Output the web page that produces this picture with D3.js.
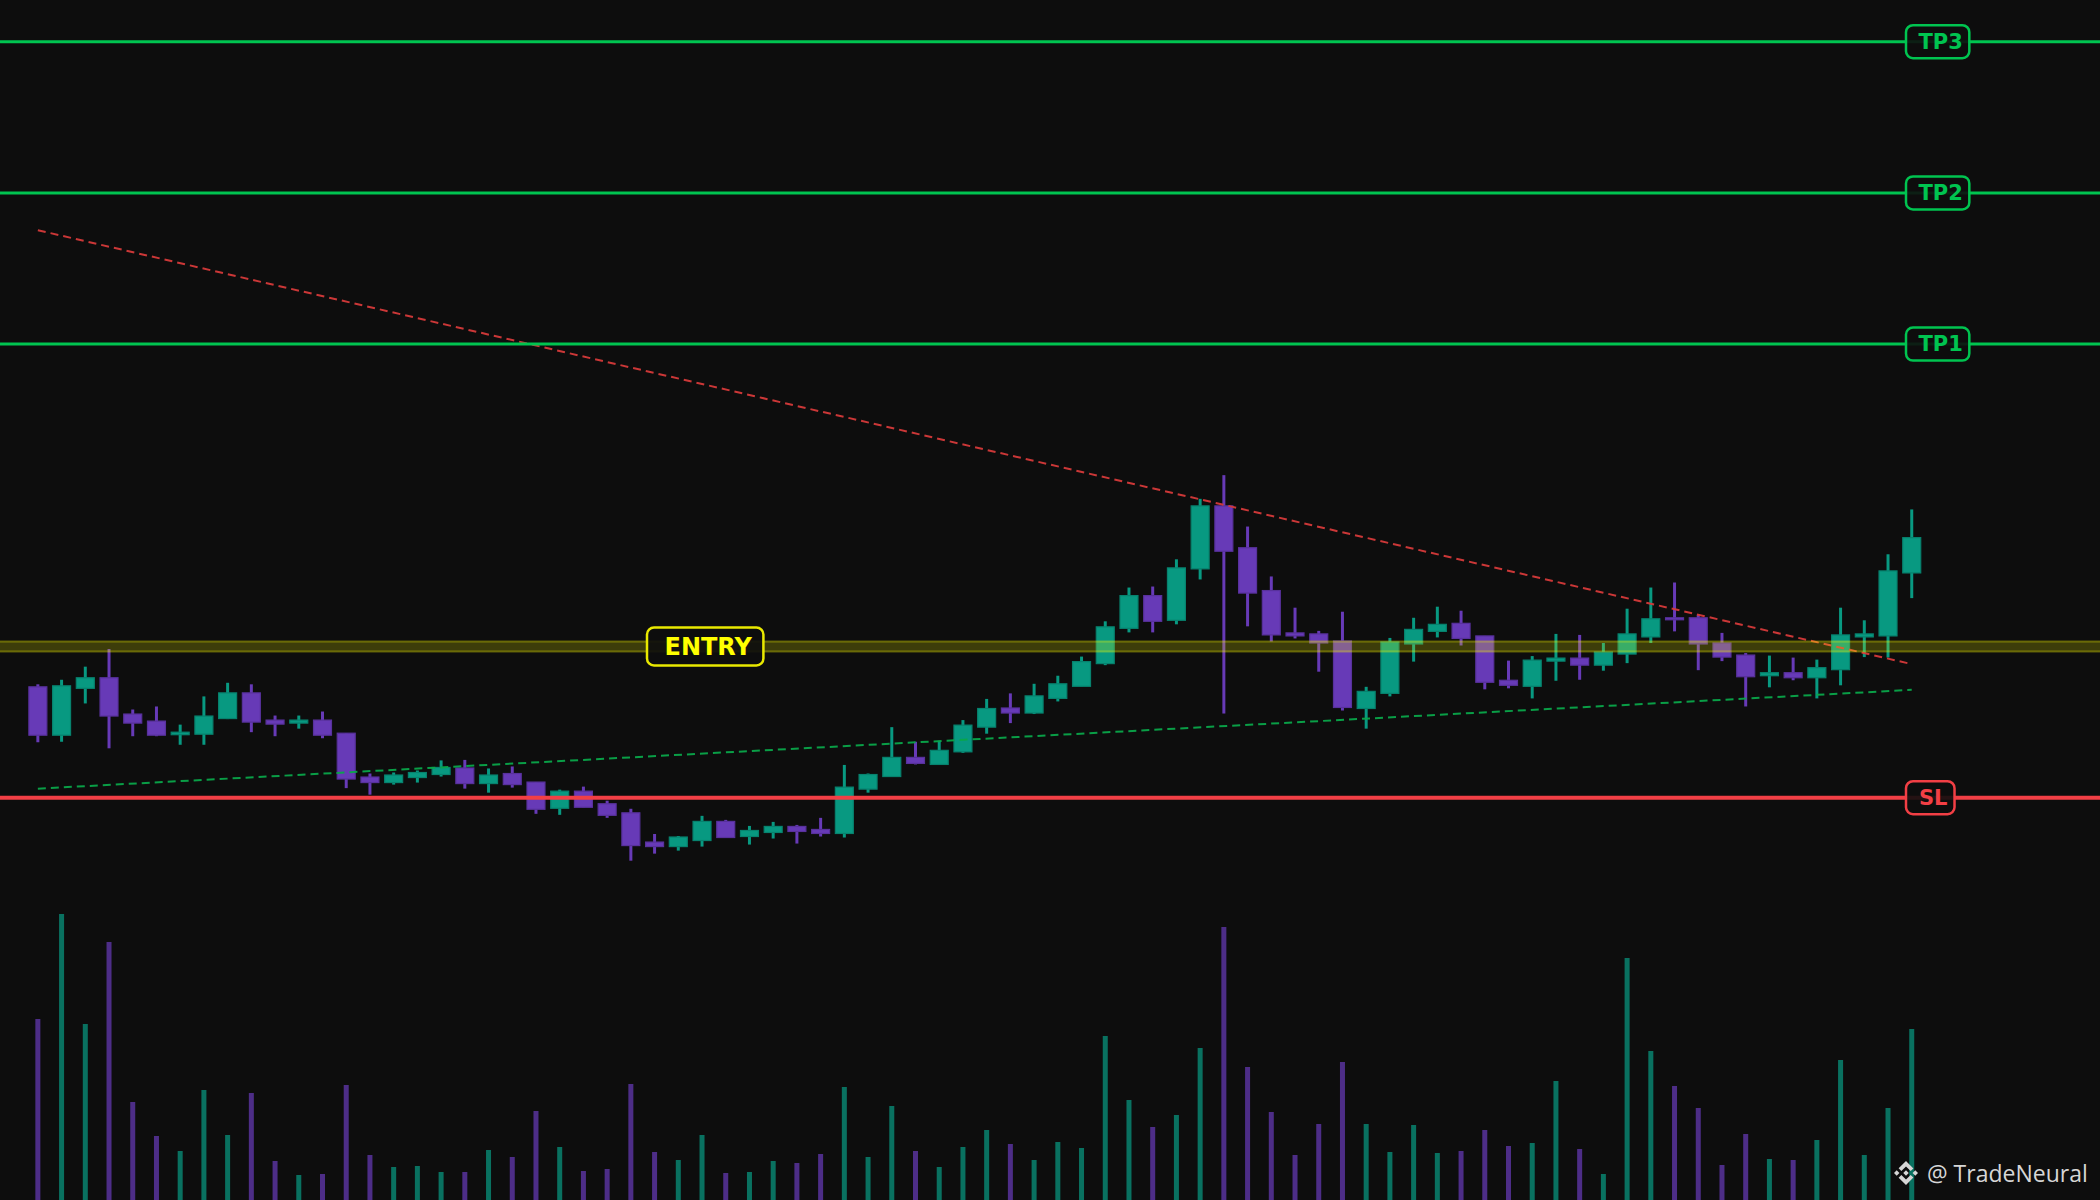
<!DOCTYPE html>
<html><head><meta charset="utf-8">
<script src="https://cdn.jsdelivr.net/npm/d3@7"></script>
<style>html,body{margin:0;padding:0;background:#0d0d0d;overflow:hidden}</style>
</head><body><svg id="chart" width="2100" height="1200"></svg>
<script>
// ---- data ----
const opens  = [99.20,98.24,99.17,99.38,98.66,98.52,98.25,98.26,98.57,99.08,98.54,98.48,98.54,98.28,97.41,97.30,97.40,97.46,97.59,97.28,
                97.48,97.31,96.79,97.13,96.88,96.70,96.12,96.03,96.15,96.53,96.23,96.31,96.43,96.37,96.29,97.17,97.42,97.80,97.66,97.91,
                98.40,98.78,98.68,98.97,99.21,99.66,100.36,101.01,100.52,101.54,102.79,101.96,101.11,100.27,100.25,100.11,98.77,99.07,100.05,100.30,
                100.46,100.21,99.33,99.21,99.71,99.77,99.63,99.85,100.19,100.57,100.57,100.07,99.83,99.42,99.48,99.38,99.54,100.19,100.21,101.46];
const highs  = [99.25,99.34,99.60,99.95,98.75,98.81,98.45,99.01,99.28,99.25,98.63,98.63,98.71,98.28,97.48,97.50,97.54,97.74,97.75,97.58,
                97.62,97.31,97.16,97.22,96.94,96.78,96.28,96.24,96.64,96.56,96.44,96.52,96.46,96.60,97.65,97.48,98.40,98.11,98.13,98.54,
                98.96,99.07,99.26,99.42,99.80,100.50,101.17,101.19,101.73,102.93,103.40,102.38,101.39,100.77,100.31,100.69,99.20,100.17,100.57,100.79,
                100.71,100.21,99.72,99.81,100.25,100.23,100.07,100.75,101.17,101.27,100.63,100.27,99.87,99.82,99.78,99.74,100.77,100.52,101.83,102.72];
const lows   = [98.10,98.11,98.87,97.98,98.22,98.22,98.05,98.05,98.56,98.30,98.22,98.37,98.18,97.19,97.06,97.26,97.30,97.42,97.18,97.10,
                97.20,96.68,96.66,96.81,96.60,95.75,95.89,95.95,96.03,96.21,96.07,96.19,96.09,96.23,96.21,97.10,97.42,97.66,97.66,97.89,
                98.27,98.48,98.66,98.91,99.21,99.63,100.28,100.28,100.44,101.33,98.67,100.40,100.10,100.16,99.50,98.73,98.37,99.01,99.70,100.18,
                100.02,99.15,99.17,98.97,99.32,99.34,99.52,99.67,100.07,100.30,99.53,99.71,98.81,99.19,99.33,98.97,99.23,99.79,99.78,100.96];
const closes = [98.24,99.22,99.38,98.62,98.48,98.24,98.30,98.62,99.08,98.50,98.46,98.54,98.24,97.37,97.30,97.45,97.50,97.60,97.28,97.45,
                97.26,96.77,97.13,96.81,96.65,96.05,96.03,96.22,96.53,96.21,96.35,96.43,96.33,96.29,97.21,97.46,97.80,97.68,97.94,98.44,
                98.77,98.68,99.02,99.26,99.70,100.39,101.01,100.50,101.56,102.79,101.89,101.06,100.23,100.21,100.07,98.79,99.11,100.09,100.34,100.44,
                100.16,99.29,99.23,99.73,99.77,99.63,99.89,100.25,100.55,100.53,100.05,99.79,99.40,99.48,99.38,99.58,100.23,100.25,101.50,102.16];
const volumes = [1810,2860,1760,2580,980,640,490,1100,650,1070,390,250,260,1150,450,330,340,280,280,500,
                 430,890,530,290,310,1160,480,400,650,270,280,390,370,460,1130,430,940,490,330,530,
                 700,560,400,580,520,1640,1000,730,850,1520,2730,1330,880,450,760,1380,760,480,750,470,
                 490,700,540,570,1190,510,260,2420,1490,1140,920,350,660,410,400,600,1400,450,920,1710];
const levelNames  = ["TP3","TP2","TP1","ENTRY","SL"];
const levelPrices = [112, 109, 106, 100, 97];
const resistanceIdx = [0, 79], resistancePrices = [108.26, 99.65];
const supportIdx    = [0, 79], supportPrices    = [97.18, 99.14];

// ---- setup ----
const W = 2100, H = 1200;
const svg = d3.select("#chart");
const UP = "#089981", DOWN = "#673ab7", BG = "#0d0d0d";
const TPC = "#00c450", SLC = "#f23f45", ENC = "#ffff00";

svg.append("rect").attr("width", W).attr("height", H).attr("fill", BG);

const idx = d3.range(opens.length);
const x = d3.scaleBand().domain(idx).range([26, 1923.6]).paddingInner(0.2).paddingOuter(0.1);
const bw = x.bandwidth();
const cx = i => x(i) + bw / 2;
const y = d3.scaleLinear().domain([97, 112]).range([797.7, 41.7]);
const yv = d3.scaleLinear().domain([0, 3000]).range([H, 900]);
const col = i => closes[i] >= opens[i] ? UP : DOWN;

// volume
svg.append("g").selectAll("rect").data(idx).join("rect")
  .attr("x", i => cx(i) - 2.5).attr("width", 5)
  .attr("y", i => yv(volumes[i])).attr("height", i => yv(0) - yv(volumes[i]))
  .attr("fill", col).attr("opacity", 0.72);

// candles
const cg = svg.append("g");
cg.selectAll("line").data(idx).join("line")
  .attr("x1", cx).attr("x2", cx)
  .attr("y1", i => y(highs[i])).attr("y2", i => y(lows[i]))
  .attr("stroke", col).attr("stroke-width", 3);
cg.selectAll("rect").data(idx).join("rect")
  .attr("x", i => x(i) + 0.5).attr("width", bw - 1)
  .attr("y", i => y(Math.max(opens[i], closes[i])))
  .attr("height", i => Math.max(2, Math.abs(y(opens[i]) - y(closes[i]))))
  .attr("fill", col)
  .attr("stroke", i => d3.color(col(i)).darker(0.45))
  .attr("stroke-width", 1.2);

// trend lines
const tl = d3.line().x(d => cx(d[0])).y(d => y(d[1]));
svg.append("path").attr("d", tl(resistanceIdx.map((v, k) => [v, resistancePrices[k]])))
  .attr("fill", "none").attr("stroke", "#d63a3a").attr("stroke-width", 2)
  .attr("stroke-dasharray", "8,5").attr("opacity", 0.95);
svg.append("path").attr("d", tl(supportIdx.map((v, k) => [v, supportPrices[k]])))
  .attr("fill", "none").attr("stroke", "#0aa64a").attr("stroke-width", 2)
  .attr("stroke-dasharray", "8,5").attr("opacity", 0.95);

// level lines
levelNames.forEach((name, k) => {
  const py = y(levelPrices[k]);
  if (name === "ENTRY") {
    svg.append("rect").attr("x", -2).attr("width", W + 4).attr("y", py - 5).attr("height", 10)
      .attr("fill", ENC).attr("fill-opacity", 0.2)
      .attr("stroke", ENC).attr("stroke-opacity", 0.32).attr("stroke-width", 2);
  } else {
    svg.append("line").attr("x1", 0).attr("x2", W).attr("y1", py).attr("y2", py)
      .attr("stroke", name === "SL" ? SLC : TPC).attr("stroke-width", name === "SL" ? 4 : 3);
  }
});

// labels
function label(name, left, py, color, textColor, fs, h, pad, base) {
  const g = svg.append("g");
  const box = g.append("rect");
  const t = g.append("text").text(name)
    .attr("font-family", "DejaVu Sans, sans-serif").attr("font-weight", "bold")
    .attr("font-size", fs).attr("fill", textColor).attr("text-anchor", "middle");
  const tw = t.node().getComputedTextLength();
  const bwid = tw + 2 * pad;
  box.attr("x", left).attr("y", py - h / 2).attr("width", bwid).attr("height", h)
    .attr("rx", 7).attr("fill", BG).attr("fill-opacity", 0.9)
    .attr("stroke", color).attr("stroke-width", 2.5);
  t.attr("x", left + bwid / 2 + 3).attr("y", py + base);
}
levelNames.forEach((name, k) => {
  const py = y(levelPrices[k]);
  if (name === "ENTRY") label(name, 647, py, "#e8e800", ENC, 24, 38, 14.5, 8);
  else if (name === "SL") label(name, 1906, py, SLC, SLC, 21, 33, 10, 7);
  else label(name, 1906, py, TPC, TPC, 21, 33, 9.5, 7);
});

// watermark
const wm = svg.append("g").attr("fill", "#d6d6d6");
const logo = wm.append("g").attr("transform", "translate(1894,1161) scale(" + (24 / 126.61) + ")");
["M38.73,53.2l24.59-24.58,24.6,24.6,14.3-14.31L63.32,0,24.43,38.9l14.3,14.3Z",
 "M0,63.31l14.3-14.31,14.31,14.31-14.31,14.3Z",
 "M38.73,73.41l24.59,24.59,24.6-24.6,14.31,14.29L63.32,126.61,24.43,87.73l14.3-14.32Z",
 "M98,63.31l14.3-14.31,14.31,14.3-14.31,14.32Z",
 "M77.83,63.3L63.32,48.78,48.81,63.3l14.51,14.5Z"].forEach(d => logo.append("path").attr("d", d));
wm.append("text").attr("x", 1927).attr("y", 1182).text("@ TradeNeural")
  .attr("font-family", "Open Sans, Noto Sans, sans-serif").attr("font-size", 23)
  .attr("fill", "#d6d6d6");
</script></body></html>
